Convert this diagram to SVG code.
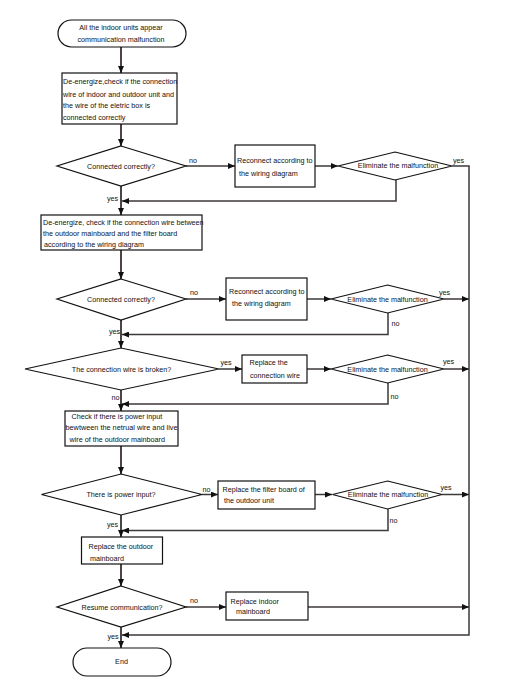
<svg xmlns="http://www.w3.org/2000/svg" width="514" height="687" viewBox="0 0 514 687">
<style>
.n{fill:#fff;stroke:#111;stroke-width:1.2}
.t{font-family:"Liberation Sans",Arial,sans-serif;font-size:7.2px;fill:#111}
.c{text-anchor:middle}
.e{fill:none;stroke:#3e3838;stroke-width:1.5}
.s{fill:none;stroke:#4d4545;stroke-width:2}
</style>
<defs>
<marker id="a" markerWidth="7" markerHeight="6" refX="7" refY="3" orient="auto" markerUnits="userSpaceOnUse">
<path d="M0,0 L7,3 L0,6 Z" fill="#111"/>
</marker>
</defs>
<rect width="514" height="687" fill="#fff"/>
<g id="connectors">
<path class="s" d="M121,47 V73" marker-end="url(#a)"/>
<path class="s" d="M121,124 V146" marker-end="url(#a)"/>
<path class="e" d="M186,166 H235" marker-end="url(#a)"/>
<path class="e" d="M315,166 H338" marker-end="url(#a)"/>
<path class="e" d="M452,166 H469 V635 H122" marker-end="url(#a)"/>
<path class="e" d="M396,180 V201 H122" marker-end="url(#a)"/>
<path class="s" d="M121,186 V215" marker-end="url(#a)"/>
<path class="s" d="M121,250 V279" marker-end="url(#a)"/>
<path class="e" d="M186,299 H226" marker-end="url(#a)"/>
<path class="e" d="M307,299 H331" marker-end="url(#a)"/>
<path class="e" d="M444,299 H469" marker-end="url(#a)"/>
<path class="e" d="M388,313 V334.5 H122" marker-end="url(#a)"/>
<path class="s" d="M121,320 V348" marker-end="url(#a)"/>
<path class="e" d="M219,369 H242" marker-end="url(#a)"/>
<path class="e" d="M307,369 H331" marker-end="url(#a)"/>
<path class="e" d="M444,369 H469" marker-end="url(#a)"/>
<path class="e" d="M388,383 V404 H122" marker-end="url(#a)"/>
<path class="s" d="M121,390 V411" marker-end="url(#a)"/>
<path class="s" d="M121,446 V474" marker-end="url(#a)"/>
<path class="e" d="M202,494.5 H218" marker-end="url(#a)"/>
<path class="e" d="M315,494.5 H332" marker-end="url(#a)"/>
<path class="e" d="M442,494.5 H469" marker-end="url(#a)"/>
<path class="e" d="M388,509 V530.5 H122" marker-end="url(#a)"/>
<path class="s" d="M121,515 V537" marker-end="url(#a)"/>
<path class="s" d="M121,564 V586" marker-end="url(#a)"/>
<path class="e" d="M186,607 H226" marker-end="url(#a)"/>
<path class="e" d="M308,607 H469" marker-end="url(#a)"/>
<path class="s" d="M121,627 V648" marker-end="url(#a)"/>
<text class="t" x="189" y="163">no</text>
<text class="t" x="453" y="163">yes</text>
<text class="t" x="107" y="201">yes</text>
<text class="t" x="190" y="295">no</text>
<text class="t" x="439" y="295">yes</text>
<text class="t" x="391.5" y="326">no</text>
<text class="t" x="109" y="334">yes</text>
<text class="t" x="220.5" y="365">yes</text>
<text class="t" x="443" y="364">yes</text>
<text class="t" x="390.5" y="398.5">no</text>
<text class="t" x="111.5" y="400">no</text>
<text class="t" x="202.5" y="491.5">no</text>
<text class="t" x="440.5" y="490">yes</text>
<text class="t" x="389.5" y="522.5">no</text>
<text class="t" x="107" y="526.5">yes</text>
<text class="t" x="190" y="603">no</text>
<text class="t" x="107.5" y="638.5">yes</text>
</g>
<g id="start">
<rect class="n" x="58" y="20" width="128" height="27" rx="13.5"/>
<text class="t c" x="121" y="30">All the indoor units appear</text>
<text class="t c" x="121" y="42">communication malfunction</text>
</g>
<g id="check1">
<rect class="n" x="62" y="73" width="115" height="51"/>
<text class="t" x="63" y="84">De-energize,check if the connection</text>
<text class="t" x="63" y="96.5">wire of indoor and outdoor unit and</text>
<text class="t" x="63" y="108">the wire of the eletric box is</text>
<text class="t" x="63" y="120">connected correctly</text>
</g>
<g id="dec1">
<polygon class="n" points="121,146 186,166 121,186 57,166"/>
<text class="t c" x="121" y="168.5">Connected correctly?</text>
</g>
<g id="reconnect1">
<rect class="n" x="235" y="145" width="80" height="42"/>
<text class="t" x="237" y="163">Reconnect according to</text>
<text class="t" x="239" y="175.5">the wiring diagram</text>
</g>
<g id="elim1">
<polygon class="n" points="395,152 452,166 395,180 338,166"/>
<text class="t c" x="398" y="167.5">Eliminate the malfunction</text>
</g>
<g id="check2">
<rect class="n" x="41" y="215" width="161" height="35"/>
<text class="t" x="43" y="224.5">De-energize, check if the connection wire between</text>
<text class="t" x="43" y="236">the outdoor mainboard and the filter board</text>
<text class="t" x="44" y="246.5"> according to the wiring diagram</text>
</g>
<g id="dec2">
<polygon class="n" points="121,279 186,299 121,320 57,299"/>
<text class="t c" x="121" y="301.5">Connected correctly?</text>
</g>
<g id="reconnect2">
<rect class="n" x="226" y="278" width="81" height="42"/>
<text class="t" x="229" y="294">Reconnect according to</text>
<text class="t" x="232" y="305.5">the wiring diagram</text>
</g>
<g id="elim2">
<polygon class="n" points="387.5,285 444,299 387.5,313 331,299"/>
<text class="t c" x="387.5" y="301.5">Eliminate the malfunction</text>
</g>
<g id="dec3">
<polygon class="n" points="121,348 219,369 121,390 25,369"/>
<text class="t c" x="121.5" y="371.5">The connection wire is broken?</text>
</g>
<g id="replacewire">
<rect class="n" x="242" y="355" width="65" height="28"/>
<text class="t" x="249.5" y="365">Replace the</text>
<text class="t" x="250" y="377.5">connection wire</text>
</g>
<g id="elim3">
<polygon class="n" points="387.5,355 444,369 387.5,383 331,369"/>
<text class="t c" x="387.5" y="371.5">Eliminate the malfunction</text>
</g>
<g id="check3">
<rect class="n" x="65" y="411" width="113" height="35"/>
<text class="t" x="71.5" y="419">Check if there is power input</text>
<text class="t" x="65.5" y="429.5" textLength="112" lengthAdjust="spacingAndGlyphs">bewtween the netrual wire and live</text>
<text class="t" x="69.5" y="441.5">wire of the outdoor mainboard</text>
</g>
<g id="dec4">
<polygon class="n" points="121,474 202,494.5 121,515 41.5,494.5"/>
<text class="t c" x="121" y="497">There is power input?</text>
</g>
<g id="replacefilter">
<rect class="n" x="218" y="481" width="97" height="28"/>
<text class="t" x="222.5" y="491.5">Replace the filter board of</text>
<text class="t" x="224" y="503">the outdoor unit</text>
</g>
<g id="elim4">
<polygon class="n" points="387.5,481 442,494.5 387.5,509 332.5,494.5"/>
<text class="t c" x="388" y="497">Eliminate the malfunction</text>
</g>
<g id="replaceoutdoor">
<rect class="n" x="81.5" y="537" width="81" height="27"/>
<text class="t" x="88.5" y="549">Replace the outdoor</text>
<text class="t" x="90" y="560.5">mainboard</text>
</g>
<g id="dec5">
<polygon class="n" points="121,586 186,607 121,627 57,607"/>
<text class="t c" x="122" y="609.5">Resume communication?</text>
</g>
<g id="replaceindoor">
<rect class="n" x="226" y="592" width="82" height="28"/>
<text class="t" x="230.5" y="604">Replace indoor</text>
<text class="t" x="236" y="614">mainboard</text>
</g>
<g id="end">
<rect class="n" x="73" y="648" width="98" height="28" rx="14"/>
<text class="t c" x="121.5" y="664">End</text>
</g>
</svg>
